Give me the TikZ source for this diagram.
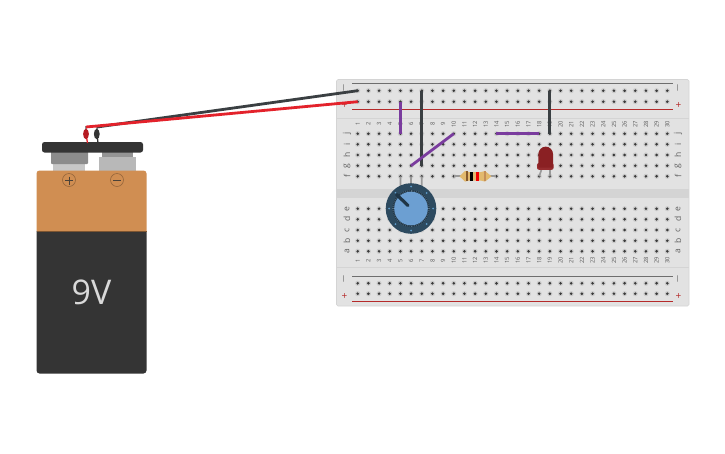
\documentclass[tikz,border=0pt]{standalone}
\usepackage{fontspec}
\setmainfont{Open Sans}
\begin{document}
\begin{tikzpicture}[x=1pt,y=-1pt,
  lbl/.style={font=\fontsize{5.8}{6}\selectfont,text=black!65,inner sep=0pt,rotate=90},
  letterlbl/.style={font=\fontsize{8.5}{9}\selectfont,text=black!62,inner sep=0pt,rotate=90},
  wirepurple/.style={draw=purpleW,line width=2.8pt},
  wireblack/.style={draw=blackW,line width=2.8pt},
  lead/.style={draw=leadG,line width=1.7pt},
  railsign/.style={inner sep=0pt,font=\fontsize{10}{10}\selectfont}]
\definecolor{boardF}{HTML}{E2E2E2}
\definecolor{boardE}{HTML}{D4D4D4}
\definecolor{channel}{HTML}{D4D4D4}
\definecolor{halo}{HTML}{CDCDCD}
\definecolor{hole}{HTML}{3A3A3A}
\definecolor{purpleW}{HTML}{7A3C9E}
\definecolor{blackW}{HTML}{3A3F42}
\definecolor{leadG}{HTML}{9A9A9A}
\definecolor{railRed}{HTML}{B52A2A}
\definecolor{railGrey}{HTML}{6E6E6E}
\definecolor{orangeB}{HTML}{D08E52}
\definecolor{darkB}{HTML}{343434}
\definecolor{redW}{HTML}{E3222B}
\definecolor{ledR}{HTML}{8A2023}
\definecolor{ledL}{HTML}{962C2F}
\definecolor{potRing}{HTML}{2D4A5F}
\definecolor{potBlue}{HTML}{6C9FD2}
\definecolor{potTick}{HTML}{1F3546}
\definecolor{potDot}{HTML}{5E9CCB}
\definecolor{resB}{HTML}{E2B96E}
\useasboundingbox (0,0) rectangle (725,453);
\fill[white] (0,0) rectangle (725,453);
% board
\fill[boardF,draw=boardE,line width=.6pt,rounded corners=1.5pt] (336.5,79.5) rectangle (689,306);
\fill[channel] (337,188.5) rectangle (688.5,197.5);
\draw[boardE,line width=.7pt] (337,118) -- (688.5,118);
\draw[boardE,line width=.7pt] (337,267) -- (688.5,267);
\draw[railGrey,line width=1pt] (352,83.5) -- (673,83.5);
\draw[railRed,line width=1pt] (352,109.5) -- (673,109.5);
\draw[railGrey,line width=1pt] (352,276) -- (673,276);
\draw[railRed,line width=1pt] (352,301.5) -- (673,301.5);
% rail signs
\foreach \sx/\nm in {344.5/a,678.5/b}{
  \node[railsign,text=black!65,rotate=90,font=\fontsize{7}{7}\selectfont] (minus1\nm) at (\sx,87.5) {—};
  \node[railsign,text=railRed] (plus1\nm) at (\sx,106) {+};
  \node[railsign,text=black!65,rotate=90,font=\fontsize{7}{7}\selectfont] (minus2\nm) at (\sx,279) {—};
  \node[railsign,text=railRed] (plus2\nm) at (\sx,297) {+};
}
% holes and column numbers
\foreach \c in {1,...,30}{
  \pgfmathsetmacro{\hx}{357.7+(\c-1)*10.676}
  \foreach \rn/\ry in {A/90.7,B/101.7,j/133.7,i/144.3,h/155,g/165.7,f/176.3,e/208.7,d/219.3,c/230,b/240.7,a/251.3,C/283.3,D/293.7}{
    \coordinate (\rn\c) at (\hx,\ry);
    \fill[halo] (\hx,\ry) circle (2.6);
    \fill[hole] (\hx,\ry) circle (1.45);
  }
  \node[lbl] (numt\c) at (\hx,124) {\c};
  \node[lbl] (numb\c) at (\hx,260.5) {\c};
}
% row letters
\foreach \rn/\ry in {j/133.7,i/144.3,h/155,g/165.7,f/176.3,e/208.7,d/219.3,c/230,b/240.7,a/251.3}{
  \node[letterlbl] (ll\rn) at (347,\ry) {\rn};
  \node[letterlbl] (lr\rn) at (678,\ry) {\rn};
}
% battery
\fill[black!22] (53,163) rectangle (85,171);
\fill[black!45,rounded corners=1pt] (51,151) rectangle (88,164);
\fill[black!28] (99,157) rectangle (136,171);
\fill[black!42] (101.5,151) rectangle (133,157);
\fill[darkB,rounded corners=2.5pt] (42,142) rectangle (143,152.5);
\fill[orangeB] (36.5,231) -- (36.5,173.5) arc (180:270:3) -- (143.5,170.5) arc (270:360:3) -- (146.5,231) -- cycle;
\fill[darkB] (36.5,231) -- (146.5,231) -- (146.5,370.5) arc (0:90:3) -- (39.5,373.5) arc (90:180:3) -- cycle;
\draw[black!40!orangeB,line width=.6pt] (36.5,231) -- (146.5,231);
\foreach \px/\nm in {69/p,117/m}{
  \node[circle,draw=black!28!orangeB,line width=.6pt,minimum size=13pt,inner sep=0pt] (term\nm) at (\px,180) {};
}
\draw[darkB!85!orangeB,line width=.9pt] (65,180.5) -- (73,180.5) (69,176.5) -- (69,184.5);
\draw[darkB!85!orangeB,line width=.9pt] (113,180.5) -- (121,180.5);
\node[text=black!15,font=\fontsize{34}{34}\selectfont,inner sep=0pt] (volt) at (91.5,292) {9V};
% clips
\coordinate (redTop) at (86,127);
\coordinate (blackTop) at (97,127);
\draw[redW,line width=1.3pt] (86,134) -- (87.5,143);
\draw[darkB,line width=1.3pt] (97,134) -- (98,143);
\fill[black!45] (85,126) rectangle (87,130);
\fill[black!45] (96,126) rectangle (98,130);
\fill[redW!80!black] (86,134) ellipse (2.9 and 5.2);
\fill[darkB] (96.8,134) ellipse (2.9 and 5.2);
% battery leads
\draw[blackW,line width=2.8pt] (blackTop) -- (A1);
\draw[redW,line width=2.8pt] (redTop) -- (B1);
% jumper wires
\draw[wirepurple] (B5) -- (j5);
\draw[wireblack] (A7) -- (g7);
\draw[wirepurple] (g6) -- (j10);
\draw[wirepurple] (j14) -- (j18);
\draw[wireblack] (A19) -- (j19);
% resistor
\draw[lead] (f10) -- (f14);
\fill[resB] (459.5,176.3) -- (465,171) -- (469,172) -- (481,172) -- (485,171) -- (491.5,176.3) -- (485,181.6) -- (481,180.6) -- (469,180.6) -- (465,181.6) -- cycle;
\fill[brown!70!black] (465.5,171.4) rectangle (467.5,181.2);
\fill[black] (470,172) rectangle (473,180.6);
\fill[red!95!black] (476,172) rectangle (479,180.6);
\fill[black!35!orange!65] (484,171.4) rectangle (485.5,181.2);
% LED
\draw[lead] (f18) -- (542,168);
\draw[lead] (f19) -- (550,168);
\fill[ledL,rounded corners=2pt] (537,163) rectangle (553.6,169.8);
\fill[ledR] (538.3,167.5) -- (538.3,154.5) arc (180:360:7.4 and 7.9) -- (553.1,167.5) -- cycle;
% potentiometer
\draw[lead] (f5) -- (400.4,186);
\draw[lead] (f6) -- (411,186);
\draw[lead] (f7) -- (421.8,186);
\coordinate (potC) at (411,208.5);
\fill[potRing] (potC) circle (25.3);
\fill[potTick] (potC) circle (18.6);
\foreach \a in {0,...,59}{\draw[potRing!80!white,line width=.5pt] (potC) ++(\a*6:17) -- ++(\a*6:1.6);}
\fill[potBlue] (potC) circle (16.8);
\foreach \a in {0,45,90,135,180,225,270,315}{\fill[potDot] (potC) ++(\a:22) circle (1);}
\draw[potTick,line width=3.2pt,line cap=round] (408,205.5) -- (396.5,194.5);
\end{tikzpicture}
\end{document}
